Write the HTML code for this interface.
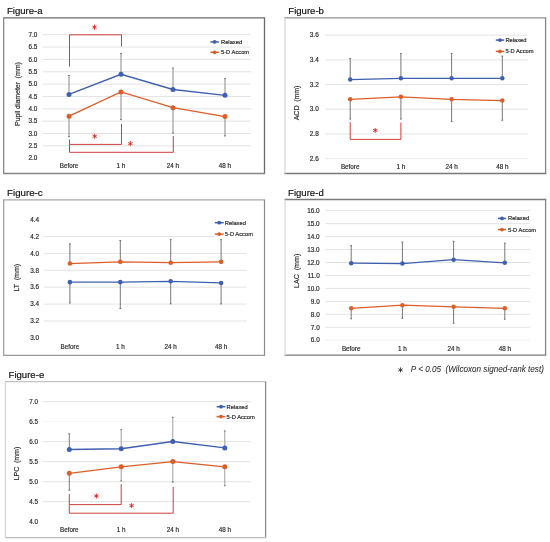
<!DOCTYPE html>
<html><head><meta charset="utf-8"><style>
html,body{margin:0;padding:0;background:#fff;}
body{width:550px;height:542px;overflow:hidden;}
svg{display:block;font-family:"Liberation Sans", sans-serif;filter:blur(0.35px);}
</style></head><body>
<svg width="550" height="542" viewBox="0 0 550 542">
<line x1="3.05" y1="17.90" x2="265.15" y2="17.90" stroke="#6a6a6a" stroke-width="1.3" />
<line x1="264.50" y1="17.90" x2="264.50" y2="173.50" stroke="#6a6a6a" stroke-width="1.3" />
<line x1="3.05" y1="173.50" x2="265.15" y2="173.50" stroke="#858585" stroke-width="1.3" />
<line x1="3.70" y1="17.90" x2="3.70" y2="173.50" stroke="#8a8a8a" stroke-width="1.3" />
<text x="7.00" y="13.80" font-size="9.85" text-anchor="start" fill="#111" stroke="#111" stroke-width="0.18" textLength="35.6" lengthAdjust="spacingAndGlyphs">Figure-a</text>
<text x="37.40" y="160.49" font-size="6.4" text-anchor="end" fill="#2a2a2a" stroke="#2a2a2a" stroke-width="0.18" >2.0</text>
<line x1="42.50" y1="145.85" x2="251.00" y2="145.85" stroke="#DCDCDC" stroke-width="0.8" />
<text x="37.40" y="148.14" font-size="6.4" text-anchor="end" fill="#2a2a2a" stroke="#2a2a2a" stroke-width="0.18" >2.5</text>
<line x1="42.50" y1="133.50" x2="251.00" y2="133.50" stroke="#DCDCDC" stroke-width="0.8" />
<text x="37.40" y="135.79" font-size="6.4" text-anchor="end" fill="#2a2a2a" stroke="#2a2a2a" stroke-width="0.18" >3.0</text>
<line x1="42.50" y1="121.15" x2="251.00" y2="121.15" stroke="#DCDCDC" stroke-width="0.8" />
<text x="37.40" y="123.44" font-size="6.4" text-anchor="end" fill="#2a2a2a" stroke="#2a2a2a" stroke-width="0.18" >3.5</text>
<line x1="42.50" y1="108.80" x2="251.00" y2="108.80" stroke="#DCDCDC" stroke-width="0.8" />
<text x="37.40" y="111.09" font-size="6.4" text-anchor="end" fill="#2a2a2a" stroke="#2a2a2a" stroke-width="0.18" >4.0</text>
<line x1="42.50" y1="96.45" x2="251.00" y2="96.45" stroke="#DCDCDC" stroke-width="0.8" />
<text x="37.40" y="98.74" font-size="6.4" text-anchor="end" fill="#2a2a2a" stroke="#2a2a2a" stroke-width="0.18" >4.5</text>
<line x1="42.50" y1="84.10" x2="251.00" y2="84.10" stroke="#DCDCDC" stroke-width="0.8" />
<text x="37.40" y="86.39" font-size="6.4" text-anchor="end" fill="#2a2a2a" stroke="#2a2a2a" stroke-width="0.18" >5.0</text>
<line x1="42.50" y1="71.75" x2="251.00" y2="71.75" stroke="#DCDCDC" stroke-width="0.8" />
<text x="37.40" y="74.04" font-size="6.4" text-anchor="end" fill="#2a2a2a" stroke="#2a2a2a" stroke-width="0.18" >5.5</text>
<line x1="42.50" y1="59.40" x2="251.00" y2="59.40" stroke="#DCDCDC" stroke-width="0.8" />
<text x="37.40" y="61.69" font-size="6.4" text-anchor="end" fill="#2a2a2a" stroke="#2a2a2a" stroke-width="0.18" >6.0</text>
<line x1="42.50" y1="47.05" x2="251.00" y2="47.05" stroke="#DCDCDC" stroke-width="0.8" />
<text x="37.40" y="49.34" font-size="6.4" text-anchor="end" fill="#2a2a2a" stroke="#2a2a2a" stroke-width="0.18" >6.5</text>
<line x1="42.50" y1="34.70" x2="251.00" y2="34.70" stroke="#DCDCDC" stroke-width="0.8" />
<text x="37.40" y="36.99" font-size="6.4" text-anchor="end" fill="#2a2a2a" stroke="#2a2a2a" stroke-width="0.18" >7.0</text>
<text x="69.00" y="167.66" font-size="6.3" text-anchor="middle" fill="#2a2a2a" stroke="#2a2a2a" stroke-width="0.18" >Before</text>
<text x="121.00" y="167.66" font-size="6.3" text-anchor="middle" fill="#2a2a2a" stroke="#2a2a2a" stroke-width="0.18" >1 h</text>
<text x="173.00" y="167.66" font-size="6.3" text-anchor="middle" fill="#2a2a2a" stroke="#2a2a2a" stroke-width="0.18" >24 h</text>
<text x="225.00" y="167.66" font-size="6.3" text-anchor="middle" fill="#2a2a2a" stroke="#2a2a2a" stroke-width="0.18" >48 h</text>
<text transform="translate(19.58,126.00) rotate(-90)" font-size="7.2" fill="#2a2a2a" stroke="#2a2a2a" stroke-width="0.18" textLength="64.0" lengthAdjust="spacing" xml:space="preserve">Pupil diameter  (mm)</text>
<line x1="69.00" y1="94.47" x2="69.00" y2="75.46" stroke="#909090" stroke-width="1.05" />
<line x1="68.10" y1="75.46" x2="69.90" y2="75.46" stroke="#555555" stroke-width="0.8" />
<line x1="121.00" y1="74.34" x2="121.00" y2="53.47" stroke="#909090" stroke-width="1.05" />
<line x1="120.10" y1="53.47" x2="121.90" y2="53.47" stroke="#555555" stroke-width="0.8" />
<line x1="173.00" y1="89.53" x2="173.00" y2="68.04" stroke="#909090" stroke-width="1.05" />
<line x1="172.10" y1="68.04" x2="173.90" y2="68.04" stroke="#555555" stroke-width="0.8" />
<line x1="225.00" y1="95.34" x2="225.00" y2="78.67" stroke="#909090" stroke-width="1.05" />
<line x1="224.10" y1="78.67" x2="225.90" y2="78.67" stroke="#555555" stroke-width="0.8" />
<line x1="69.00" y1="116.21" x2="69.00" y2="136.59" stroke="#909090" stroke-width="1.05" />
<line x1="68.10" y1="136.59" x2="69.90" y2="136.59" stroke="#555555" stroke-width="0.8" />
<line x1="121.00" y1="91.88" x2="121.00" y2="119.67" stroke="#909090" stroke-width="1.05" />
<line x1="120.10" y1="119.67" x2="121.90" y2="119.67" stroke="#555555" stroke-width="0.8" />
<line x1="173.00" y1="107.69" x2="173.00" y2="133.01" stroke="#909090" stroke-width="1.05" />
<line x1="172.10" y1="133.01" x2="173.90" y2="133.01" stroke="#555555" stroke-width="0.8" />
<line x1="225.00" y1="116.58" x2="225.00" y2="135.97" stroke="#909090" stroke-width="1.05" />
<line x1="224.10" y1="135.97" x2="225.90" y2="135.97" stroke="#555555" stroke-width="0.8" />
<polyline points="69.50,66.50 69.50,34.80 121.50,34.80 121.50,46.60" fill="none" stroke="#CA3434" stroke-width="0.95"/>
<polyline points="69.50,139.60 69.50,144.40 121.50,144.40 121.50,123.80" fill="none" stroke="#CA3434" stroke-width="0.95"/>
<polyline points="69.50,144.40 69.50,152.30 173.30,152.30 173.30,136.10" fill="none" stroke="#CA3434" stroke-width="0.95"/>
<line x1="94.50" y1="24.75" x2="94.50" y2="29.65" stroke="#E02424" stroke-width="0.95" />
<line x1="92.38" y1="25.97" x2="96.62" y2="28.43" stroke="#E02424" stroke-width="0.95" />
<line x1="96.62" y1="25.97" x2="92.38" y2="28.43" stroke="#E02424" stroke-width="0.95" />
<line x1="94.70" y1="133.85" x2="94.70" y2="138.75" stroke="#E02424" stroke-width="0.95" />
<line x1="92.58" y1="135.08" x2="96.82" y2="137.53" stroke="#E02424" stroke-width="0.95" />
<line x1="96.82" y1="135.08" x2="92.58" y2="137.53" stroke="#E02424" stroke-width="0.95" />
<line x1="130.30" y1="141.15" x2="130.30" y2="146.05" stroke="#E02424" stroke-width="0.95" />
<line x1="128.18" y1="142.38" x2="132.42" y2="144.82" stroke="#E02424" stroke-width="0.95" />
<line x1="132.42" y1="142.38" x2="128.18" y2="144.82" stroke="#E02424" stroke-width="0.95" />
<polyline points="69.00,94.47 121.00,74.34 173.00,89.53 225.00,95.34" fill="none" stroke="#3F60B0" stroke-width="1.4"/>
<circle cx="69.00" cy="94.47" r="2.5" fill="#3F60B0"/>
<circle cx="121.00" cy="74.34" r="2.5" fill="#3F60B0"/>
<circle cx="173.00" cy="89.53" r="2.5" fill="#3F60B0"/>
<circle cx="225.00" cy="95.34" r="2.5" fill="#3F60B0"/>
<polyline points="69.00,116.21 121.00,91.88 173.00,107.69 225.00,116.58" fill="none" stroke="#DC5E28" stroke-width="1.4"/>
<circle cx="69.00" cy="116.21" r="2.5" fill="#DC5E28"/>
<circle cx="121.00" cy="91.88" r="2.5" fill="#DC5E28"/>
<circle cx="173.00" cy="107.69" r="2.5" fill="#DC5E28"/>
<circle cx="225.00" cy="116.58" r="2.5" fill="#DC5E28"/>
<line x1="210.40" y1="41.90" x2="218.80" y2="41.90" stroke="#3F60B0" stroke-width="1.5" />
<circle cx="214.60" cy="41.90" r="1.9" fill="#3F60B0"/>
<text x="221.00" y="43.96" font-size="5.75" text-anchor="start" fill="#2a2a2a" stroke="#2a2a2a" stroke-width="0.18" >Relaxed</text>
<line x1="210.40" y1="52.30" x2="218.80" y2="52.30" stroke="#DC5E28" stroke-width="1.5" />
<circle cx="214.60" cy="52.30" r="1.9" fill="#DC5E28"/>
<text x="221.00" y="54.36" font-size="5.75" text-anchor="start" fill="#2a2a2a" stroke="#2a2a2a" stroke-width="0.18" >5-D Accom</text>
<line x1="284.35" y1="17.90" x2="546.25" y2="17.90" stroke="#909090" stroke-width="1.3" />
<line x1="545.60" y1="17.90" x2="545.60" y2="173.50" stroke="#858585" stroke-width="1.3" />
<line x1="284.35" y1="173.50" x2="546.25" y2="173.50" stroke="#7a7a7a" stroke-width="1.3" />
<line x1="285.00" y1="17.90" x2="285.00" y2="173.50" stroke="#d8d8d8" stroke-width="1.3" />
<text x="288.30" y="14.30" font-size="9.85" text-anchor="start" fill="#111" stroke="#111" stroke-width="0.18" textLength="35.6" lengthAdjust="spacingAndGlyphs">Figure-b</text>
<line x1="325.00" y1="158.60" x2="527.60" y2="158.60" stroke="#E6E6E6" stroke-width="0.8" />
<text x="318.70" y="160.89" font-size="6.4" text-anchor="end" fill="#2a2a2a" stroke="#2a2a2a" stroke-width="0.18" >2.6</text>
<line x1="325.00" y1="133.90" x2="527.60" y2="133.90" stroke="#DCDCDC" stroke-width="0.8" />
<text x="318.70" y="136.19" font-size="6.4" text-anchor="end" fill="#2a2a2a" stroke="#2a2a2a" stroke-width="0.18" >2.8</text>
<line x1="325.00" y1="109.20" x2="527.60" y2="109.20" stroke="#DCDCDC" stroke-width="0.8" />
<text x="318.70" y="111.49" font-size="6.4" text-anchor="end" fill="#2a2a2a" stroke="#2a2a2a" stroke-width="0.18" >3.0</text>
<line x1="325.00" y1="84.50" x2="527.60" y2="84.50" stroke="#DCDCDC" stroke-width="0.8" />
<text x="318.70" y="86.79" font-size="6.4" text-anchor="end" fill="#2a2a2a" stroke="#2a2a2a" stroke-width="0.18" >3.2</text>
<line x1="325.00" y1="59.80" x2="527.60" y2="59.80" stroke="#DCDCDC" stroke-width="0.8" />
<text x="318.70" y="62.09" font-size="6.4" text-anchor="end" fill="#2a2a2a" stroke="#2a2a2a" stroke-width="0.18" >3.4</text>
<line x1="325.00" y1="35.10" x2="527.60" y2="35.10" stroke="#DCDCDC" stroke-width="0.8" />
<text x="318.70" y="37.39" font-size="6.4" text-anchor="end" fill="#2a2a2a" stroke="#2a2a2a" stroke-width="0.18" >3.6</text>
<text x="350.20" y="168.76" font-size="6.3" text-anchor="middle" fill="#2a2a2a" stroke="#2a2a2a" stroke-width="0.18" >Before</text>
<text x="400.90" y="168.76" font-size="6.3" text-anchor="middle" fill="#2a2a2a" stroke="#2a2a2a" stroke-width="0.18" >1 h</text>
<text x="451.60" y="168.76" font-size="6.3" text-anchor="middle" fill="#2a2a2a" stroke="#2a2a2a" stroke-width="0.18" >24 h</text>
<text x="502.30" y="168.76" font-size="6.3" text-anchor="middle" fill="#2a2a2a" stroke="#2a2a2a" stroke-width="0.18" >48 h</text>
<text transform="translate(299.28,120.30) rotate(-90)" font-size="7.2" fill="#2a2a2a" stroke="#2a2a2a" stroke-width="0.18" textLength="34.8" lengthAdjust="spacing" xml:space="preserve">ACD  (mm)</text>
<line x1="350.20" y1="79.56" x2="350.20" y2="58.56" stroke="#6a6a6a" stroke-width="0.9" />
<line x1="349.30" y1="58.56" x2="351.10" y2="58.56" stroke="#555555" stroke-width="0.8" />
<line x1="400.90" y1="78.33" x2="400.90" y2="53.62" stroke="#6a6a6a" stroke-width="0.9" />
<line x1="400.00" y1="53.62" x2="401.80" y2="53.62" stroke="#555555" stroke-width="0.8" />
<line x1="451.60" y1="78.33" x2="451.60" y2="53.62" stroke="#6a6a6a" stroke-width="0.9" />
<line x1="450.70" y1="53.62" x2="452.50" y2="53.62" stroke="#555555" stroke-width="0.8" />
<line x1="502.30" y1="78.33" x2="502.30" y2="56.09" stroke="#6a6a6a" stroke-width="0.9" />
<line x1="501.40" y1="56.09" x2="503.20" y2="56.09" stroke="#555555" stroke-width="0.8" />
<line x1="350.20" y1="99.32" x2="350.20" y2="119.08" stroke="#6a6a6a" stroke-width="0.9" />
<line x1="349.30" y1="119.08" x2="351.10" y2="119.08" stroke="#555555" stroke-width="0.8" />
<line x1="400.90" y1="96.85" x2="400.90" y2="119.08" stroke="#6a6a6a" stroke-width="0.9" />
<line x1="400.00" y1="119.08" x2="401.80" y2="119.08" stroke="#555555" stroke-width="0.8" />
<line x1="451.60" y1="99.32" x2="451.60" y2="121.55" stroke="#6a6a6a" stroke-width="0.9" />
<line x1="450.70" y1="121.55" x2="452.50" y2="121.55" stroke="#555555" stroke-width="0.8" />
<line x1="502.30" y1="100.56" x2="502.30" y2="120.31" stroke="#6a6a6a" stroke-width="0.9" />
<line x1="501.40" y1="120.31" x2="503.20" y2="120.31" stroke="#555555" stroke-width="0.8" />
<polyline points="350.20,122.20 350.20,139.40 400.90,139.40 400.90,122.50" fill="none" stroke="#CA3434" stroke-width="0.95"/>
<line x1="375.20" y1="127.95" x2="375.20" y2="132.85" stroke="#E02424" stroke-width="0.95" />
<line x1="373.08" y1="129.18" x2="377.32" y2="131.62" stroke="#E02424" stroke-width="0.95" />
<line x1="377.32" y1="129.18" x2="373.08" y2="131.62" stroke="#E02424" stroke-width="0.95" />
<polyline points="350.20,79.56 400.90,78.33 451.60,78.33 502.30,78.33" fill="none" stroke="#3F60B0" stroke-width="1.25"/>
<circle cx="350.20" cy="79.56" r="2.25" fill="#3F60B0"/>
<circle cx="400.90" cy="78.33" r="2.25" fill="#3F60B0"/>
<circle cx="451.60" cy="78.33" r="2.25" fill="#3F60B0"/>
<circle cx="502.30" cy="78.33" r="2.25" fill="#3F60B0"/>
<polyline points="350.20,99.32 400.90,96.85 451.60,99.32 502.30,100.56" fill="none" stroke="#DC5E28" stroke-width="1.25"/>
<circle cx="350.20" cy="99.32" r="2.25" fill="#DC5E28"/>
<circle cx="400.90" cy="96.85" r="2.25" fill="#DC5E28"/>
<circle cx="451.60" cy="99.32" r="2.25" fill="#DC5E28"/>
<circle cx="502.30" cy="100.56" r="2.25" fill="#DC5E28"/>
<line x1="495.80" y1="40.10" x2="504.20" y2="40.10" stroke="#3F60B0" stroke-width="1.5" />
<circle cx="500.00" cy="40.10" r="1.9" fill="#3F60B0"/>
<text x="505.40" y="42.16" font-size="5.75" text-anchor="start" fill="#2a2a2a" stroke="#2a2a2a" stroke-width="0.18" >Relaxed</text>
<line x1="495.80" y1="51.40" x2="504.20" y2="51.40" stroke="#DC5E28" stroke-width="1.5" />
<circle cx="500.00" cy="51.40" r="1.9" fill="#DC5E28"/>
<text x="505.40" y="53.46" font-size="5.75" text-anchor="start" fill="#2a2a2a" stroke="#2a2a2a" stroke-width="0.18" >5-D Accom</text>
<line x1="3.10" y1="199.80" x2="265.10" y2="199.80" stroke="#a8a8a8" stroke-width="1.2" />
<line x1="264.50" y1="199.80" x2="264.50" y2="355.40" stroke="#8a8a8a" stroke-width="1.2" />
<line x1="3.10" y1="355.40" x2="265.10" y2="355.40" stroke="#999999" stroke-width="1.2" />
<line x1="3.70" y1="199.80" x2="3.70" y2="355.40" stroke="#999999" stroke-width="1.2" />
<text x="7.10" y="195.80" font-size="9.85" text-anchor="start" fill="#111" stroke="#111" stroke-width="0.18" textLength="35.6" lengthAdjust="spacingAndGlyphs">Figure-c</text>
<text x="39.10" y="340.19" font-size="6.4" text-anchor="end" fill="#2a2a2a" stroke="#2a2a2a" stroke-width="0.18" >3.0</text>
<line x1="44.30" y1="321.00" x2="246.50" y2="321.00" stroke="#DCDCDC" stroke-width="0.8" />
<text x="39.10" y="323.29" font-size="6.4" text-anchor="end" fill="#2a2a2a" stroke="#2a2a2a" stroke-width="0.18" >3.2</text>
<line x1="44.30" y1="304.10" x2="246.50" y2="304.10" stroke="#DCDCDC" stroke-width="0.8" />
<text x="39.10" y="306.39" font-size="6.4" text-anchor="end" fill="#2a2a2a" stroke="#2a2a2a" stroke-width="0.18" >3.4</text>
<line x1="44.30" y1="287.20" x2="246.50" y2="287.20" stroke="#DCDCDC" stroke-width="0.8" />
<text x="39.10" y="289.49" font-size="6.4" text-anchor="end" fill="#2a2a2a" stroke="#2a2a2a" stroke-width="0.18" >3.6</text>
<line x1="44.30" y1="270.30" x2="246.50" y2="270.30" stroke="#DCDCDC" stroke-width="0.8" />
<text x="39.10" y="272.59" font-size="6.4" text-anchor="end" fill="#2a2a2a" stroke="#2a2a2a" stroke-width="0.18" >3.8</text>
<line x1="44.30" y1="253.40" x2="246.50" y2="253.40" stroke="#DCDCDC" stroke-width="0.8" />
<text x="39.10" y="255.69" font-size="6.4" text-anchor="end" fill="#2a2a2a" stroke="#2a2a2a" stroke-width="0.18" >4.0</text>
<line x1="44.30" y1="236.50" x2="246.50" y2="236.50" stroke="#DCDCDC" stroke-width="0.8" />
<text x="39.10" y="238.79" font-size="6.4" text-anchor="end" fill="#2a2a2a" stroke="#2a2a2a" stroke-width="0.18" >4.2</text>
<text x="39.10" y="221.89" font-size="6.4" text-anchor="end" fill="#2a2a2a" stroke="#2a2a2a" stroke-width="0.18" >4.4</text>
<text x="69.90" y="348.66" font-size="6.3" text-anchor="middle" fill="#2a2a2a" stroke="#2a2a2a" stroke-width="0.18" >Before</text>
<text x="120.30" y="348.66" font-size="6.3" text-anchor="middle" fill="#2a2a2a" stroke="#2a2a2a" stroke-width="0.18" >1 h</text>
<text x="170.70" y="348.66" font-size="6.3" text-anchor="middle" fill="#2a2a2a" stroke="#2a2a2a" stroke-width="0.18" >24 h</text>
<text x="221.10" y="348.66" font-size="6.3" text-anchor="middle" fill="#2a2a2a" stroke="#2a2a2a" stroke-width="0.18" >48 h</text>
<text transform="translate(18.68,291.50) rotate(-90)" font-size="7.2" fill="#2a2a2a" stroke="#2a2a2a" stroke-width="0.18" textLength="27.7" lengthAdjust="spacing" xml:space="preserve">LT  (mm)</text>
<line x1="69.90" y1="282.13" x2="69.90" y2="303.00" stroke="#6a6a6a" stroke-width="0.9" />
<line x1="69.00" y1="303.00" x2="70.80" y2="303.00" stroke="#555555" stroke-width="0.8" />
<line x1="120.30" y1="282.13" x2="120.30" y2="308.49" stroke="#6a6a6a" stroke-width="0.9" />
<line x1="119.40" y1="308.49" x2="121.20" y2="308.49" stroke="#555555" stroke-width="0.8" />
<line x1="170.70" y1="281.29" x2="170.70" y2="303.85" stroke="#6a6a6a" stroke-width="0.9" />
<line x1="169.80" y1="303.85" x2="171.60" y2="303.85" stroke="#555555" stroke-width="0.8" />
<line x1="221.10" y1="282.98" x2="221.10" y2="303.85" stroke="#6a6a6a" stroke-width="0.9" />
<line x1="220.20" y1="303.85" x2="222.00" y2="303.85" stroke="#555555" stroke-width="0.8" />
<line x1="69.90" y1="263.54" x2="69.90" y2="243.85" stroke="#6a6a6a" stroke-width="0.9" />
<line x1="69.00" y1="243.85" x2="70.80" y2="243.85" stroke="#555555" stroke-width="0.8" />
<line x1="120.30" y1="261.85" x2="120.30" y2="240.47" stroke="#6a6a6a" stroke-width="0.9" />
<line x1="119.40" y1="240.47" x2="121.20" y2="240.47" stroke="#555555" stroke-width="0.8" />
<line x1="170.70" y1="262.69" x2="170.70" y2="239.63" stroke="#6a6a6a" stroke-width="0.9" />
<line x1="169.80" y1="239.63" x2="171.60" y2="239.63" stroke="#555555" stroke-width="0.8" />
<line x1="221.10" y1="261.85" x2="221.10" y2="239.63" stroke="#6a6a6a" stroke-width="0.9" />
<line x1="220.20" y1="239.63" x2="222.00" y2="239.63" stroke="#555555" stroke-width="0.8" />
<rect x="215" y="216" width="33" height="21" fill="#fff"/>
<polyline points="69.90,282.13 120.30,282.13 170.70,281.29 221.10,282.98" fill="none" stroke="#3F60B0" stroke-width="1.25"/>
<circle cx="69.90" cy="282.13" r="2.3" fill="#3F60B0"/>
<circle cx="120.30" cy="282.13" r="2.3" fill="#3F60B0"/>
<circle cx="170.70" cy="281.29" r="2.3" fill="#3F60B0"/>
<circle cx="221.10" cy="282.98" r="2.3" fill="#3F60B0"/>
<polyline points="69.90,263.54 120.30,261.85 170.70,262.69 221.10,261.85" fill="none" stroke="#DC5E28" stroke-width="1.25"/>
<circle cx="69.90" cy="263.54" r="2.3" fill="#DC5E28"/>
<circle cx="120.30" cy="261.85" r="2.3" fill="#DC5E28"/>
<circle cx="170.70" cy="262.69" r="2.3" fill="#DC5E28"/>
<circle cx="221.10" cy="261.85" r="2.3" fill="#DC5E28"/>
<line x1="214.80" y1="222.70" x2="223.70" y2="222.70" stroke="#3F60B0" stroke-width="1.5" />
<circle cx="219.25" cy="222.70" r="1.9" fill="#3F60B0"/>
<text x="224.80" y="224.76" font-size="5.75" text-anchor="start" fill="#2a2a2a" stroke="#2a2a2a" stroke-width="0.18" >Relaxed</text>
<line x1="214.80" y1="234.10" x2="223.70" y2="234.10" stroke="#DC5E28" stroke-width="1.5" />
<circle cx="219.25" cy="234.10" r="1.9" fill="#DC5E28"/>
<text x="224.80" y="236.16" font-size="5.75" text-anchor="start" fill="#2a2a2a" stroke="#2a2a2a" stroke-width="0.18" >5-D Accom</text>
<line x1="284.45" y1="199.50" x2="546.25" y2="199.50" stroke="#7a7a7a" stroke-width="1.3" />
<line x1="545.60" y1="199.50" x2="545.60" y2="355.20" stroke="#858585" stroke-width="1.3" />
<line x1="284.45" y1="355.20" x2="546.25" y2="355.20" stroke="#7a7a7a" stroke-width="1.3" />
<line x1="285.10" y1="199.50" x2="285.10" y2="355.20" stroke="#dcdcdc" stroke-width="1.3" />
<text x="288.10" y="195.50" font-size="9.85" text-anchor="start" fill="#111" stroke="#111" stroke-width="0.18" textLength="35.6" lengthAdjust="spacingAndGlyphs">Figure-d</text>
<line x1="325.50" y1="340.20" x2="530.00" y2="340.20" stroke="#EDEDED" stroke-width="0.8" />
<text x="319.70" y="342.49" font-size="6.4" text-anchor="end" fill="#2a2a2a" stroke="#2a2a2a" stroke-width="0.18" >6.0</text>
<line x1="325.50" y1="327.25" x2="530.00" y2="327.25" stroke="#DCDCDC" stroke-width="0.8" />
<text x="319.70" y="329.54" font-size="6.4" text-anchor="end" fill="#2a2a2a" stroke="#2a2a2a" stroke-width="0.18" >7.0</text>
<line x1="325.50" y1="314.30" x2="530.00" y2="314.30" stroke="#DCDCDC" stroke-width="0.8" />
<text x="319.70" y="316.59" font-size="6.4" text-anchor="end" fill="#2a2a2a" stroke="#2a2a2a" stroke-width="0.18" >8.0</text>
<line x1="325.50" y1="301.35" x2="530.00" y2="301.35" stroke="#DCDCDC" stroke-width="0.8" />
<text x="319.70" y="303.64" font-size="6.4" text-anchor="end" fill="#2a2a2a" stroke="#2a2a2a" stroke-width="0.18" >9.0</text>
<line x1="325.50" y1="288.40" x2="530.00" y2="288.40" stroke="#DCDCDC" stroke-width="0.8" />
<text x="319.70" y="290.69" font-size="6.4" text-anchor="end" fill="#2a2a2a" stroke="#2a2a2a" stroke-width="0.18" >10.0</text>
<line x1="325.50" y1="275.45" x2="530.00" y2="275.45" stroke="#DCDCDC" stroke-width="0.8" />
<text x="319.70" y="277.74" font-size="6.4" text-anchor="end" fill="#2a2a2a" stroke="#2a2a2a" stroke-width="0.18" >11.0</text>
<line x1="325.50" y1="262.50" x2="530.00" y2="262.50" stroke="#DCDCDC" stroke-width="0.8" />
<text x="319.70" y="264.79" font-size="6.4" text-anchor="end" fill="#2a2a2a" stroke="#2a2a2a" stroke-width="0.18" >12.0</text>
<line x1="325.50" y1="249.55" x2="530.00" y2="249.55" stroke="#DCDCDC" stroke-width="0.8" />
<text x="319.70" y="251.84" font-size="6.4" text-anchor="end" fill="#2a2a2a" stroke="#2a2a2a" stroke-width="0.18" >13.0</text>
<line x1="325.50" y1="236.60" x2="530.00" y2="236.60" stroke="#DCDCDC" stroke-width="0.8" />
<text x="319.70" y="238.89" font-size="6.4" text-anchor="end" fill="#2a2a2a" stroke="#2a2a2a" stroke-width="0.18" >14.0</text>
<line x1="325.50" y1="223.65" x2="530.00" y2="223.65" stroke="#DCDCDC" stroke-width="0.8" />
<text x="319.70" y="225.94" font-size="6.4" text-anchor="end" fill="#2a2a2a" stroke="#2a2a2a" stroke-width="0.18" >15.0</text>
<line x1="325.50" y1="210.70" x2="530.00" y2="210.70" stroke="#DCDCDC" stroke-width="0.8" />
<text x="319.70" y="212.99" font-size="6.4" text-anchor="end" fill="#2a2a2a" stroke="#2a2a2a" stroke-width="0.18" >16.0</text>
<text x="351.20" y="351.06" font-size="6.3" text-anchor="middle" fill="#2a2a2a" stroke="#2a2a2a" stroke-width="0.18" >Before</text>
<text x="402.40" y="351.06" font-size="6.3" text-anchor="middle" fill="#2a2a2a" stroke="#2a2a2a" stroke-width="0.18" >1 h</text>
<text x="453.60" y="351.06" font-size="6.3" text-anchor="middle" fill="#2a2a2a" stroke="#2a2a2a" stroke-width="0.18" >24 h</text>
<text x="504.80" y="351.06" font-size="6.3" text-anchor="middle" fill="#2a2a2a" stroke="#2a2a2a" stroke-width="0.18" >48 h</text>
<text transform="translate(299.08,287.90) rotate(-90)" font-size="7.2" fill="#2a2a2a" stroke="#2a2a2a" stroke-width="0.18" textLength="34.3" lengthAdjust="spacing" xml:space="preserve">LAC  (mm)</text>
<line x1="351.20" y1="263.15" x2="351.20" y2="245.66" stroke="#6a6a6a" stroke-width="0.9" />
<line x1="350.30" y1="245.66" x2="352.10" y2="245.66" stroke="#555555" stroke-width="0.8" />
<line x1="402.40" y1="263.54" x2="402.40" y2="242.04" stroke="#6a6a6a" stroke-width="0.9" />
<line x1="401.50" y1="242.04" x2="403.30" y2="242.04" stroke="#555555" stroke-width="0.8" />
<line x1="453.60" y1="259.65" x2="453.60" y2="241.26" stroke="#6a6a6a" stroke-width="0.9" />
<line x1="452.70" y1="241.26" x2="454.50" y2="241.26" stroke="#555555" stroke-width="0.8" />
<line x1="504.80" y1="262.76" x2="504.80" y2="243.20" stroke="#6a6a6a" stroke-width="0.9" />
<line x1="503.90" y1="243.20" x2="505.70" y2="243.20" stroke="#555555" stroke-width="0.8" />
<line x1="351.20" y1="308.34" x2="351.20" y2="318.83" stroke="#6a6a6a" stroke-width="0.9" />
<line x1="350.30" y1="318.83" x2="352.10" y2="318.83" stroke="#555555" stroke-width="0.8" />
<line x1="402.40" y1="305.24" x2="402.40" y2="318.31" stroke="#6a6a6a" stroke-width="0.9" />
<line x1="401.50" y1="318.31" x2="403.30" y2="318.31" stroke="#555555" stroke-width="0.8" />
<line x1="453.60" y1="306.79" x2="453.60" y2="323.24" stroke="#6a6a6a" stroke-width="0.9" />
<line x1="452.70" y1="323.24" x2="454.50" y2="323.24" stroke="#555555" stroke-width="0.8" />
<line x1="504.80" y1="308.34" x2="504.80" y2="319.22" stroke="#6a6a6a" stroke-width="0.9" />
<line x1="503.90" y1="319.22" x2="505.70" y2="319.22" stroke="#555555" stroke-width="0.8" />
<polyline points="351.20,263.15 402.40,263.54 453.60,259.65 504.80,262.76" fill="none" stroke="#3F60B0" stroke-width="1.25"/>
<circle cx="351.20" cy="263.15" r="2.25" fill="#3F60B0"/>
<circle cx="402.40" cy="263.54" r="2.25" fill="#3F60B0"/>
<circle cx="453.60" cy="259.65" r="2.25" fill="#3F60B0"/>
<circle cx="504.80" cy="262.76" r="2.25" fill="#3F60B0"/>
<polyline points="351.20,308.34 402.40,305.24 453.60,306.79 504.80,308.34" fill="none" stroke="#DC5E28" stroke-width="1.25"/>
<circle cx="351.20" cy="308.34" r="2.25" fill="#DC5E28"/>
<circle cx="402.40" cy="305.24" r="2.25" fill="#DC5E28"/>
<circle cx="453.60" cy="306.79" r="2.25" fill="#DC5E28"/>
<circle cx="504.80" cy="308.34" r="2.25" fill="#DC5E28"/>
<line x1="498.00" y1="218.40" x2="506.00" y2="218.40" stroke="#3F60B0" stroke-width="1.5" />
<circle cx="502.00" cy="218.40" r="1.9" fill="#3F60B0"/>
<text x="508.00" y="220.46" font-size="5.75" text-anchor="start" fill="#2a2a2a" stroke="#2a2a2a" stroke-width="0.18" >Relaxed</text>
<line x1="498.00" y1="229.60" x2="506.00" y2="229.60" stroke="#DC5E28" stroke-width="1.5" />
<circle cx="502.00" cy="229.60" r="1.9" fill="#DC5E28"/>
<text x="508.00" y="231.66" font-size="5.75" text-anchor="start" fill="#2a2a2a" stroke="#2a2a2a" stroke-width="0.18" >5-D Accom</text>
<line x1="4.85" y1="381.70" x2="266.25" y2="381.70" stroke="#c4c4c4" stroke-width="1.3" />
<line x1="265.60" y1="381.70" x2="265.60" y2="537.70" stroke="#8a8a8a" stroke-width="1.3" />
<line x1="4.85" y1="537.70" x2="266.25" y2="537.70" stroke="#bcbcbc" stroke-width="1.3" />
<line x1="5.50" y1="381.70" x2="5.50" y2="537.70" stroke="#d6d6d6" stroke-width="1.3" />
<text x="8.60" y="378.00" font-size="9.85" text-anchor="start" fill="#111" stroke="#111" stroke-width="0.18" textLength="35.6" lengthAdjust="spacingAndGlyphs">Figure-e</text>
<text x="38.10" y="523.99" font-size="6.4" text-anchor="end" fill="#2a2a2a" stroke="#2a2a2a" stroke-width="0.18" >4.0</text>
<line x1="43.10" y1="501.68" x2="250.80" y2="501.68" stroke="#DCDCDC" stroke-width="0.8" />
<text x="38.10" y="503.97" font-size="6.4" text-anchor="end" fill="#2a2a2a" stroke="#2a2a2a" stroke-width="0.18" >4.5</text>
<line x1="43.10" y1="481.65" x2="250.80" y2="481.65" stroke="#DCDCDC" stroke-width="0.8" />
<text x="38.10" y="483.94" font-size="6.4" text-anchor="end" fill="#2a2a2a" stroke="#2a2a2a" stroke-width="0.18" >5.0</text>
<line x1="43.10" y1="461.62" x2="250.80" y2="461.62" stroke="#DCDCDC" stroke-width="0.8" />
<text x="38.10" y="463.92" font-size="6.4" text-anchor="end" fill="#2a2a2a" stroke="#2a2a2a" stroke-width="0.18" >5.5</text>
<line x1="43.10" y1="441.60" x2="250.80" y2="441.60" stroke="#DCDCDC" stroke-width="0.8" />
<text x="38.10" y="443.89" font-size="6.4" text-anchor="end" fill="#2a2a2a" stroke="#2a2a2a" stroke-width="0.18" >6.0</text>
<line x1="43.10" y1="421.57" x2="250.80" y2="421.57" stroke="#F2F2F2" stroke-width="0.8" />
<text x="38.10" y="423.87" font-size="6.4" text-anchor="end" fill="#2a2a2a" stroke="#2a2a2a" stroke-width="0.18" >6.5</text>
<line x1="43.10" y1="401.55" x2="250.80" y2="401.55" stroke="#DCDCDC" stroke-width="0.8" />
<text x="38.10" y="403.84" font-size="6.4" text-anchor="end" fill="#2a2a2a" stroke="#2a2a2a" stroke-width="0.18" >7.0</text>
<text x="69.30" y="531.86" font-size="6.3" text-anchor="middle" fill="#2a2a2a" stroke="#2a2a2a" stroke-width="0.18" >Before</text>
<text x="121.20" y="531.86" font-size="6.3" text-anchor="middle" fill="#2a2a2a" stroke="#2a2a2a" stroke-width="0.18" >1 h</text>
<text x="172.80" y="531.86" font-size="6.3" text-anchor="middle" fill="#2a2a2a" stroke="#2a2a2a" stroke-width="0.18" >24 h</text>
<text x="224.80" y="531.86" font-size="6.3" text-anchor="middle" fill="#2a2a2a" stroke="#2a2a2a" stroke-width="0.18" >48 h</text>
<text transform="translate(18.58,480.30) rotate(-90)" font-size="7.2" fill="#2a2a2a" stroke="#2a2a2a" stroke-width="0.18" textLength="33.7" lengthAdjust="spacing" xml:space="preserve">LPC  (mm)</text>
<line x1="69.30" y1="449.49" x2="69.30" y2="433.79" stroke="#666666" stroke-width="0.85" />
<line x1="68.40" y1="433.79" x2="70.20" y2="433.79" stroke="#555555" stroke-width="0.8" />
<line x1="121.20" y1="448.69" x2="121.20" y2="429.75" stroke="#8c8c8c" stroke-width="0.85" />
<line x1="120.30" y1="429.75" x2="122.10" y2="429.75" stroke="#555555" stroke-width="0.8" />
<line x1="172.80" y1="441.44" x2="172.80" y2="417.25" stroke="#8c8c8c" stroke-width="0.85" />
<line x1="171.90" y1="417.25" x2="173.70" y2="417.25" stroke="#555555" stroke-width="0.8" />
<line x1="224.80" y1="447.89" x2="224.80" y2="430.95" stroke="#8c8c8c" stroke-width="0.85" />
<line x1="223.90" y1="430.95" x2="225.70" y2="430.95" stroke="#555555" stroke-width="0.8" />
<line x1="69.30" y1="473.32" x2="69.30" y2="490.26" stroke="#666666" stroke-width="0.85" />
<line x1="68.40" y1="490.26" x2="70.20" y2="490.26" stroke="#555555" stroke-width="0.8" />
<line x1="121.20" y1="466.83" x2="121.20" y2="480.97" stroke="#8c8c8c" stroke-width="0.85" />
<line x1="120.30" y1="480.97" x2="122.10" y2="480.97" stroke="#555555" stroke-width="0.8" />
<line x1="172.80" y1="461.62" x2="172.80" y2="482.17" stroke="#8c8c8c" stroke-width="0.85" />
<line x1="171.90" y1="482.17" x2="173.70" y2="482.17" stroke="#555555" stroke-width="0.8" />
<line x1="224.80" y1="466.83" x2="224.80" y2="485.82" stroke="#8c8c8c" stroke-width="0.85" />
<line x1="223.90" y1="485.82" x2="225.70" y2="485.82" stroke="#555555" stroke-width="0.8" />
<polyline points="69.30,494.00 69.30,504.60 121.20,504.60 121.20,484.00" fill="none" stroke="#CA3434" stroke-width="0.95"/>
<polyline points="69.30,504.60 69.30,513.20 173.20,513.20 173.20,486.80" fill="none" stroke="#CA3434" stroke-width="0.95"/>
<line x1="96.40" y1="493.55" x2="96.40" y2="498.45" stroke="#E02424" stroke-width="0.95" />
<line x1="94.28" y1="494.77" x2="98.52" y2="497.23" stroke="#E02424" stroke-width="0.95" />
<line x1="98.52" y1="494.77" x2="94.28" y2="497.23" stroke="#E02424" stroke-width="0.95" />
<line x1="131.60" y1="503.15" x2="131.60" y2="508.05" stroke="#E02424" stroke-width="0.95" />
<line x1="129.48" y1="504.38" x2="133.72" y2="506.83" stroke="#E02424" stroke-width="0.95" />
<line x1="133.72" y1="504.38" x2="129.48" y2="506.83" stroke="#E02424" stroke-width="0.95" />
<polyline points="69.30,449.49 121.20,448.69 172.80,441.44 224.80,447.89" fill="none" stroke="#3F60B0" stroke-width="1.4"/>
<circle cx="69.30" cy="449.49" r="2.5" fill="#3F60B0"/>
<circle cx="121.20" cy="448.69" r="2.5" fill="#3F60B0"/>
<circle cx="172.80" cy="441.44" r="2.5" fill="#3F60B0"/>
<circle cx="224.80" cy="447.89" r="2.5" fill="#3F60B0"/>
<polyline points="69.30,473.32 121.20,466.83 172.80,461.62 224.80,466.83" fill="none" stroke="#DC5E28" stroke-width="1.4"/>
<circle cx="69.30" cy="473.32" r="2.5" fill="#DC5E28"/>
<circle cx="121.20" cy="466.83" r="2.5" fill="#DC5E28"/>
<circle cx="172.80" cy="461.62" r="2.5" fill="#DC5E28"/>
<circle cx="224.80" cy="466.83" r="2.5" fill="#DC5E28"/>
<line x1="216.60" y1="406.70" x2="225.40" y2="406.70" stroke="#3F60B0" stroke-width="1.5" />
<circle cx="221.00" cy="406.70" r="1.9" fill="#3F60B0"/>
<text x="226.60" y="408.76" font-size="5.75" text-anchor="start" fill="#2a2a2a" stroke="#2a2a2a" stroke-width="0.18" >Relaxed</text>
<line x1="216.60" y1="416.60" x2="225.40" y2="416.60" stroke="#DC5E28" stroke-width="1.5" />
<circle cx="221.00" cy="416.60" r="1.9" fill="#DC5E28"/>
<text x="226.60" y="418.66" font-size="5.75" text-anchor="start" fill="#2a2a2a" stroke="#2a2a2a" stroke-width="0.18" >5-D Accom</text>
<line x1="400.50" y1="367.40" x2="400.50" y2="372.40" stroke="#333" stroke-width="0.9" />
<line x1="398.33" y1="368.65" x2="402.67" y2="371.15" stroke="#333" stroke-width="0.9" />
<line x1="402.67" y1="368.65" x2="398.33" y2="371.15" stroke="#333" stroke-width="0.9" />
<text x="410.8" y="372.0" font-size="8.15" fill="#2a2a2a" stroke="#2a2a2a" stroke-width="0.05" font-style="italic" xml:space="preserve">P &lt; 0.05  (Wilcoxon signed-rank test)</text>
</svg>
</body></html>
